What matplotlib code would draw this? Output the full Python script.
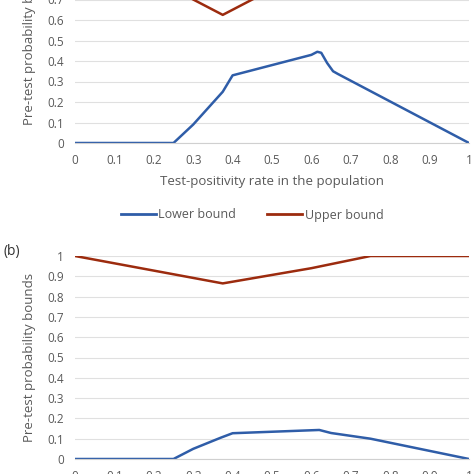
import matplotlib
matplotlib.use("Agg")
import matplotlib.pyplot as plt
from matplotlib.lines import Line2D

plt.rcParams['font.family'] = ['Open Sans', 'DejaVu Sans']

a_x_low = [0, 0.25, 0.3, 0.375, 0.4, 0.42, 0.6, 0.615, 0.625, 0.64, 0.655, 0.667, 1.0]
a_low = [0, 0, 0.09, 0.25, 0.33, 0.34, 0.43, 0.445, 0.44, 0.39, 0.35, 0.337, 0]
a_x_up = [0, 0.375, 0.75, 1.0]
a_up = [1.0, 0.625, 1.0, 1.0]

b_x_low = [0, 0.25, 0.3, 0.37, 0.4, 0.62, 0.65, 0.75, 1.0]
b_low = [0, 0, 0.05, 0.105, 0.127, 0.143, 0.128, 0.1, 0]
b_x_up = [0, 0.375, 0.6, 0.75, 1.0]
b_up = [1.0, 0.865, 0.94, 1.0, 1.0]

xticks = [0, 0.1, 0.2, 0.3, 0.4, 0.5, 0.6, 0.7, 0.8, 0.9, 1]
xlabels = ['0', '0.1', '0.2', '0.3', '0.4', '0.5', '0.6', '0.7', '0.8', '0.9', '1']
yticks = [0, 0.1, 0.2, 0.3, 0.4, 0.5, 0.6, 0.7, 0.8, 0.9, 1]
ylabels = ['0', '0.1', '0.2', '0.3', '0.4', '0.5', '0.6', '0.7', '0.8', '0.9', '1']

BLUE = '#2F5DA8'
RED = '#9C2B0E'
GRAY = '#595959'

fig = plt.figure(figsize=(4.74, 4.74), dpi=100)
W = 474.0
ax1 = fig.add_axes([75 / W, 331 / W, 394 / W, 205 / W])
ax2 = fig.add_axes([75 / W, 15 / W, 394 / W, 203 / W])

for ax, xl, yl, xu, yu in [(ax1, a_x_low, a_low, a_x_up, a_up), (ax2, b_x_low, b_low, b_x_up, b_up)]:
    ax.plot(xl, yl, color=BLUE, lw=1.8, solid_joinstyle='round')
    ax.plot(xu, yu, color=RED, lw=1.8, solid_joinstyle='round')
    ax.set_xlim(0, 1)
    ax.set_ylim(0, 1)
    ax.set_xticks(xticks)
    ax.set_xticklabels(xlabels)
    ax.set_yticks(yticks)
    ax.set_yticklabels(ylabels)
    ax.grid(axis='y', color='#E0E0E0', lw=0.8)
    ax.set_axisbelow(True)
    for s in ['top', 'right', 'left']:
        ax.spines[s].set_visible(False)
    ax.spines['bottom'].set_color('#D0D0D0')
    ax.tick_params(length=0, labelsize=8.5, colors=GRAY, pad=8)
    ax.set_ylabel('Pre-test probability bounds', fontsize=9.5, color=GRAY, labelpad=8)

ax1.set_xlabel('Test-positivity rate in the population', fontsize=9.5, color=GRAY, labelpad=6)
handles = [Line2D([], [], color=BLUE, lw=2), Line2D([], [], color=RED, lw=2)]
fig.legend(handles, ['Lower bound', 'Upper bound'], loc='center', bbox_to_anchor=(252 / W, 1 - 215 / W),
           ncol=2, frameon=False, fontsize=9, labelcolor=GRAY, handlelength=2.8, handletextpad=0.2, columnspacing=2.5)
fig.text(3 / W, 1 - 252 / W, '(b)', fontsize=10, color='#333333', va='center')

fig.savefig('out.png', dpi=100)
